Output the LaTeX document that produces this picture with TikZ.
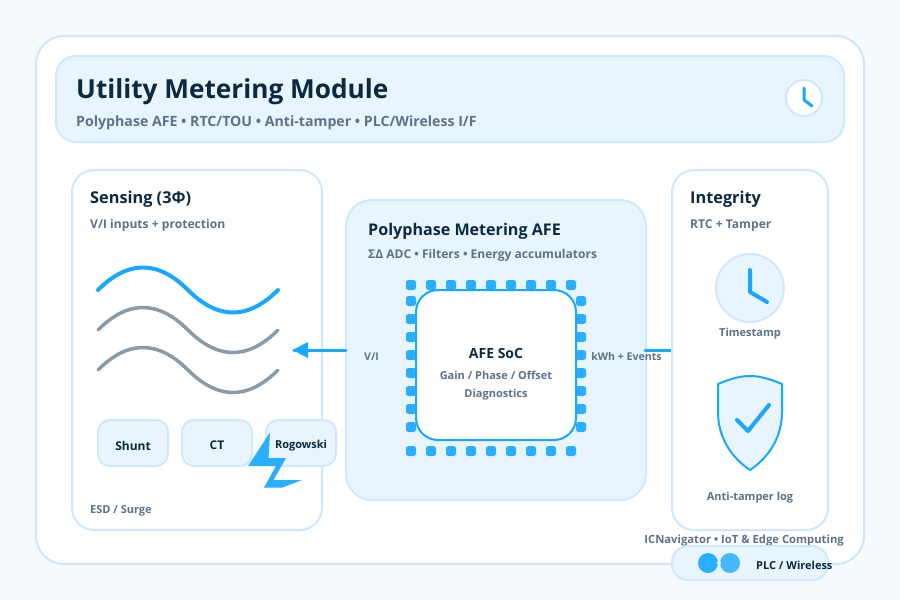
\documentclass[tikz,border=0pt]{standalone}
\usepackage{fontspec}
\setmainfont{Open Sans}
\definecolor{bgc}{HTML}{F6FBFF}
\definecolor{edge}{HTML}{CFE8FF}
\definecolor{soft}{HTML}{E8F5FF}
\definecolor{accent}{HTML}{1AA7FF}
\definecolor{pincol}{HTML}{2AAEFF}
\definecolor{ink}{HTML}{0B2A3F}
\definecolor{muted}{HTML}{5F7288}
\definecolor{wavecol}{HTML}{8A9BA8}
\tikzset{
  x=1pt,y=-1pt,
  card/.style={draw=edge,line width=2pt,fill=white},
  softcard/.style={draw=edge,line width=2pt,fill=soft},
  ttl/.style={anchor=west,inner sep=0pt,text=ink,font=\bfseries\fontsize{#1}{#1}\selectfont},
  sub/.style={anchor=west,inner sep=0pt,text=muted,font=\bfseries\fontsize{#1}{#1}\selectfont},
  lbl/.style={inner sep=0pt,text=muted,font=\bfseries\fontsize{#1}{#1}\selectfont},
  chip/.style={inner sep=0pt,text=ink,font=\bfseries\fontsize{#1}{#1}\selectfont},
  pinbox/.style={fill=pincol,rounded corners=2.5pt},
  wavey/.style={line width=#1,line cap=round},
  hand/.style={draw=accent,line cap=round,line join=round,line width=#1}
}
\newcommand{\sinewave}[1]{(98,#1) .. controls (128,#1-30) and (158,#1-30) .. (188,#1) .. controls (218,#1+30) and (248,#1+30) .. (278,#1)}
\begin{document}
\begin{tikzpicture}
\useasboundingbox (0,0) rectangle (900,600);
\fill[bgc] (0,0) rectangle (900,600);
% outer and header
\draw[card,rounded corners=28pt] (36,36) rectangle (864,564);
\draw[softcard,rounded corners=20pt] (56,56) rectangle (844,142);
\node[ttl=26.2] (title) at (76,91.5) {Utility Metering Module};
\node[sub=14.15] (subtitle) at (76,122.5) {Polyphase AFE • RTC/TOU • Anti-tamper • PLC/Wireless I/F};
\draw[line width=2pt,draw=edge,fill=white] (804,98) circle (18);
\draw[hand=3pt] (804,88) -- (804,100) -- (812,106);
% sensing
\draw[card,rounded corners=22pt] (72,170) rectangle (322,530);
\node[ttl=16.3] (sensT) at (90,199.5) {Sensing (3Φ)};
\node[sub=12.1] (sensS) at (90,225) {V/I inputs + protection};
\draw[accent,wavey=4pt] \sinewave{290};
\draw[wavecol,wavey=3.5pt] \sinewave{330};
\draw[wavecol,wavey=3.5pt] \sinewave{370};
\draw[softcard,rounded corners=12pt] (98,420) rectangle (168,466);
\node[chip=12] (shunt) at (133,445.5) {Shunt};
\draw[softcard,rounded corners=12pt] (182,420) rectangle (252,466);
\node[chip=12] (ct) at (217,445.5) {CT};
\draw[softcard,rounded corners=12pt] (266,420) rectangle (336,466);
\node[chip=11] (rogo) at (301,446) {Rogowski};
\fill[pincol] (270,432.5) -- (268.5,458) -- (286,458) -- (273.5,480) -- (302,480) -- (282.5,487.5) -- (264,487.5) -- (276,466) -- (248,466) -- cycle;
\node[sub=11] (esd) at (90,510.5) {ESD / Surge};
% AFE
\draw[softcard,rounded corners=26pt] (346,200) rectangle (646,500);
\node[ttl=16.1] (afeT) at (368,231) {Polyphase Metering AFE};
\node[sub=12.05] (afeS) at (368,255) {ΣΔ ADC • Filters • Energy accumulators};
\foreach \i in {0,...,8} {
  \fill[pinbox] (406+20*\i,280) rectangle ++(10,10);
  \fill[pinbox] (406+20*\i,446) rectangle ++(10,10);
}
\foreach \i in {0,...,7} {
  \fill[pinbox] (406,296+18*\i) rectangle ++(10,10);
  \fill[pinbox] (576,296+18*\i) rectangle ++(10,10);
}
\draw[draw=accent,line width=2pt,fill=white,rounded corners=22pt] (416,290) rectangle (576,440);
\node[chip=14] (soc) at (496,353.5) {AFE SoC};
\node[lbl=11] (gain) at (496,375) {Gain / Phase / Offset};
\node[lbl=11] (diag) at (496,395) {Diagnostics};
\node[lbl=10.6] (vi) at (371.5,357) {V/I};
\node[lbl=10.6] (kwh) at (626.5,357) {kWh + Events};
% connectors
\coordinate (inL) at (346,350);
\coordinate (inR) at (294,350);
\coordinate (outL) at (645,350);
\coordinate (outR) at (674,350);
\draw[accent,line width=3pt,line cap=round] (inL) -- (inR);
\fill[accent] (292.5,350) -- (308,342) -- (308,358) -- cycle;
\draw[accent,line width=3pt,line cap=round] (outL) -- (outR);
% integrity
\draw[card,rounded corners=22pt] (672,170) rectangle (828,530);
\node[ttl=16.3] (intT) at (690,199.5) {Integrity};
\node[sub=12.1] (intS) at (690,225.5) {RTC + Tamper};
\draw[softcard] (750,288) circle (34);
\draw[hand=4pt] (750,270) -- (750,292) -- (767,302);
\node[lbl=11] (ts) at (750,333.5) {Timestamp};
\draw[draw=accent,fill=soft,line width=2pt,line join=round] (750,376) .. controls (762,376) and (772,380) .. (782,384) -- (782,412) .. controls (782,438) and (768,458) .. (750,470) .. controls (732,458) and (718,438) .. (718,412) -- (718,384) .. controls (728,380) and (738,376) .. (750,376) -- cycle;
\draw[hand=4pt] (737,420) -- (748,431) -- (769,405);
\node[lbl=11] (log) at (750,497.5) {Anti-tamper log};
% footer
\node[lbl=11.25,anchor=east] (foot) at (844,541) {ICNavigator • IoT \& Edge Computing};
\draw[softcard,rounded corners=16pt] (672,546) rectangle (828,580);
\fill[pincol] (708,563) circle (10);
\fill[pincol,opacity=.85] (730,563) circle (10);
\draw[soft,line width=1.5pt] (717,563) -- (721,563);
\node[chip=11] [anchor=west] (plc) at (756,565) {PLC / Wireless};
\end{tikzpicture}
\end{document}
